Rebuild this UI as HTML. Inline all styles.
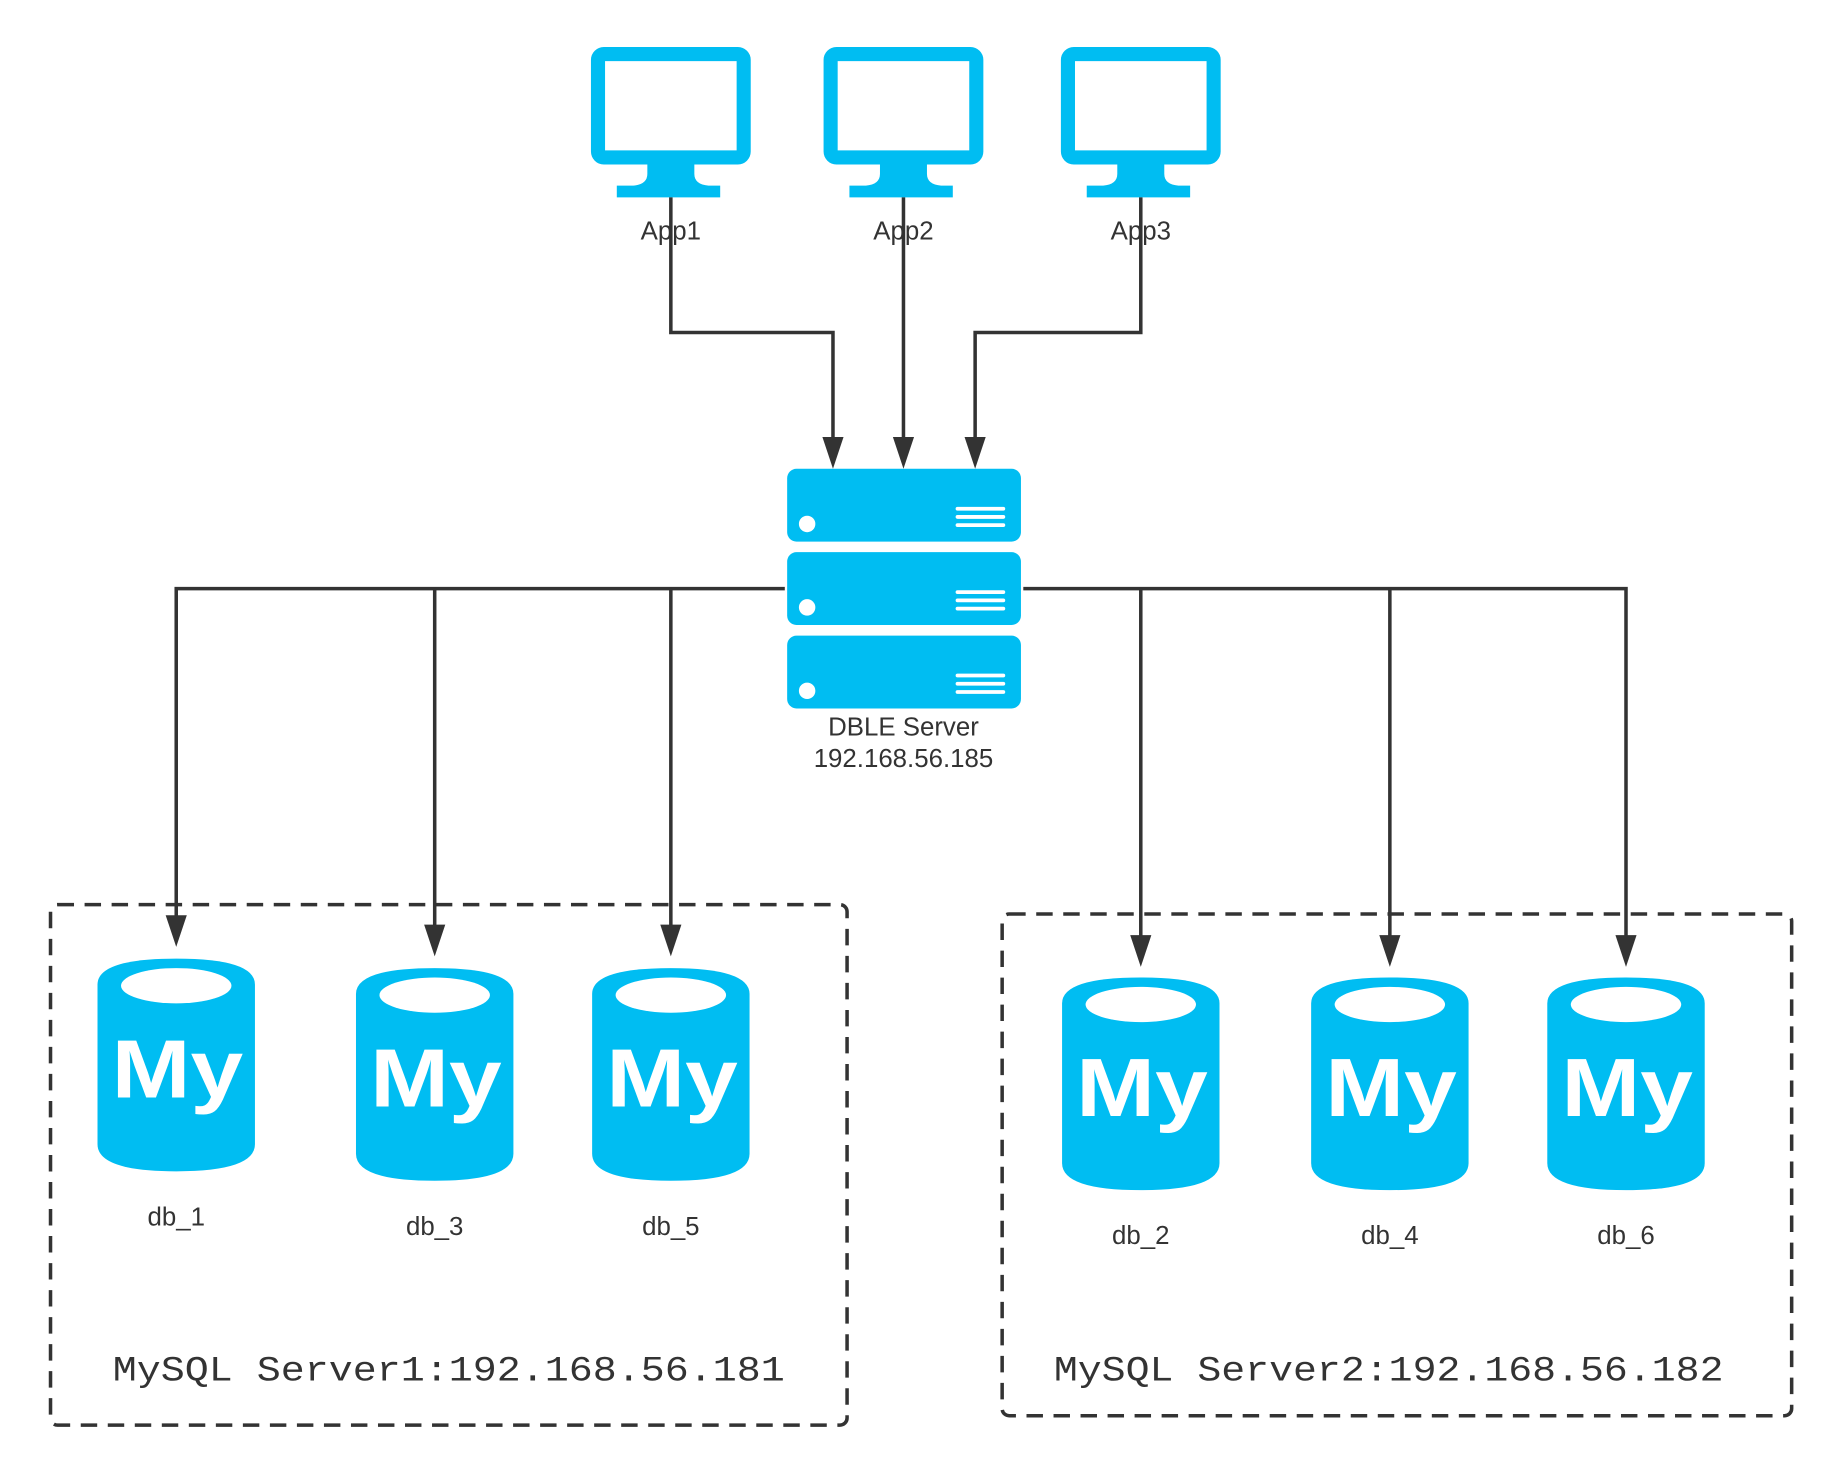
<!DOCTYPE html>
<html><head><meta charset="utf-8"><style>
html,body{margin:0;padding:0;background:#fff;}
svg{display:block;}
</style></head><body>
<svg width="1841" height="1474" viewBox="0 0 1567 1254.6" preserveAspectRatio="xMinYMin meet" xmlns="http://www.w3.org/2000/svg">
<defs>
<g id="mon">
  <rect x="-62" y="4" width="124" height="88" rx="5" fill="none" stroke="#00bdf2" stroke-width="12"/>
  <path d="M-20 98 H20 V106 Q20 115 32 116 H42 V126 H-46 V116 H-32 Q-20 115 -20 106 Z" fill="#00bdf2"/>
</g>
<g id="blk">
  <rect x="670" y="0" width="199" height="62" rx="8" fill="#00bdf2"/>
  <circle cx="687" cy="47" r="7" fill="#fff"/>
  <g stroke="#fff" stroke-width="3.2" stroke-linecap="round">
    <line x1="815" y1="34" x2="854" y2="34"/><line x1="815" y1="41" x2="854" y2="41"/><line x1="815" y1="48" x2="854" y2="48"/>
  </g>
</g>
<g id="cyl">
  <path d="M-67 22 Q-67 0 0 0 Q67 0 67 22 V158 Q67 181 0 181 Q-67 181 -67 158 Z" fill="#00bdf2"/>
  <ellipse cx="0" cy="23" rx="47" ry="15" fill="#fff"/>
  <text x="-55" y="118" font-family="Liberation Sans, sans-serif" font-weight="bold" font-size="70" fill="#fff" textLength="112" lengthAdjust="spacingAndGlyphs">My</text>
</g>
</defs>

<use href="#mon" x="571" y="42"/>
<use href="#mon" x="769" y="42"/>
<use href="#mon" x="971" y="42"/>

<g stroke="#333" stroke-width="3" fill="none">
  <polyline points="571,168 571,283 709,283 709,380"/>
  <polyline points="769,168 769,380"/>
  <polyline points="971,168 971,283 830,283 830,380"/>
  <polyline points="668,501 150,501 150,786"/>
  <line x1="370" y1="501" x2="370" y2="794"/>
  <line x1="571" y1="501" x2="571" y2="794"/>
  <polyline points="871,501 1384,501 1384,804"/>
  <line x1="971" y1="501" x2="971" y2="804"/>
  <line x1="1183" y1="501" x2="1183" y2="804"/>
</g>
<g fill="#333">
  <path d="M700 372 L718 372 L709 399 Z"/>
  <path d="M760 372 L778 372 L769 399 Z"/>
  <path d="M821 372 L839 372 L830 399 Z"/>
  <path d="M141 779 L159 779 L150 806 Z"/>
  <path d="M361 787 L379 787 L370 814 Z"/>
  <path d="M562 787 L580 787 L571 814 Z"/>
  <path d="M962 796 L980 796 L971 823 Z"/>
  <path d="M1174 796 L1192 796 L1183 823 Z"/>
  <path d="M1375 796 L1393 796 L1384 823 Z"/>
</g>

<g font-family="Liberation Sans, sans-serif" font-size="22" fill="#333" text-anchor="middle">
  <text x="571" y="204">App1</text>
  <text x="769" y="204">App2</text>
  <text x="971" y="204">App3</text>
  <text x="769" y="626">DBLE Server</text>
  <text x="769" y="653">192.168.56.185</text>
  <text x="150" y="1043">db_1</text>
  <text x="370" y="1051">db_3</text>
  <text x="571" y="1051">db_5</text>
  <text x="971" y="1059">db_2</text>
  <text x="1183" y="1059">db_4</text>
  <text x="1384" y="1059">db_6</text>
</g>

<use href="#blk" x="0" y="399"/>
<use href="#blk" x="0" y="470"/>
<use href="#blk" x="0" y="541"/>

<use href="#cyl" x="150" y="816"/>
<use href="#cyl" x="370" y="824"/>
<use href="#cyl" x="571" y="824"/>
<use href="#cyl" x="971" y="832"/>
<use href="#cyl" x="1183" y="832"/>
<use href="#cyl" x="1384" y="832"/>

<g fill="none" stroke="#333" stroke-width="3" stroke-dasharray="14 9">
  <rect x="43" y="770" width="678" height="443" rx="6"/>
  <rect x="853" y="778" width="672" height="427" rx="6"/>
</g>
<g font-family="Liberation Mono, monospace" font-size="30" fill="#333">
  <text x="96" y="1175" textLength="572" lengthAdjust="spacingAndGlyphs">MySQL Server1:192.168.56.181</text>
  <text x="897" y="1175" textLength="570" lengthAdjust="spacingAndGlyphs">MySQL Server2:192.168.56.182</text>
</g>
</svg>
</body></html>
